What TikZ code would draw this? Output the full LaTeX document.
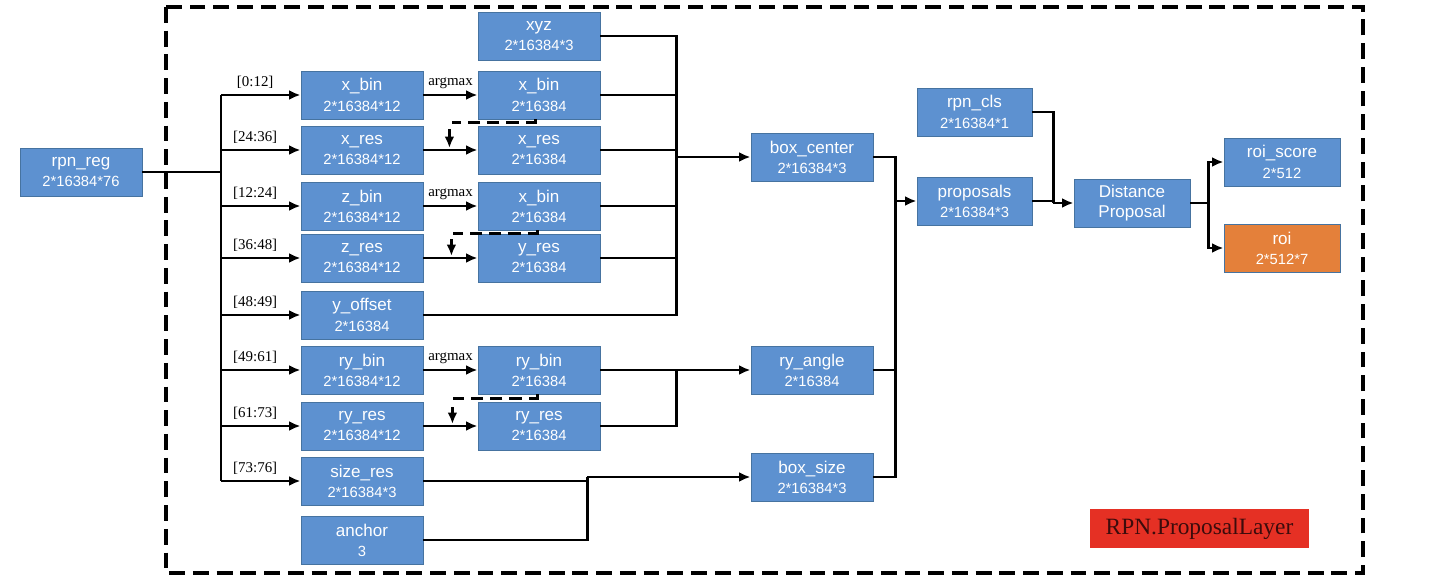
\documentclass[tikz,border=0pt]{standalone}
\usepackage{fontspec}
\setmainfont{Liberation Serif}
\setsansfont{Liberation Sans}
\usetikzlibrary{arrows.meta}
\definecolor{boxblue}{RGB}{93,145,208}
\definecolor{boxedge}{RGB}{70,115,160}
\definecolor{boxorange}{RGB}{228,128,58}
\definecolor{layerred}{RGB}{229,48,36}
\definecolor{layertext}{RGB}{60,12,12}
\tikzset{>={Latex[length=6.5pt,width=5.5pt]},
  blk/.style={draw=boxedge, line width=0.5pt, fill=boxblue, text=white, align=center, inner sep=0pt,
    minimum width=2.44cm, minimum height=0.96cm, font=\sffamily\fontsize{9.7}{11.5}\selectfont},
  lbl/.style={font=\fontsize{8.5}{10}\selectfont, inner sep=1pt, above=2pt},
  hint/.style={dash pattern=on 7pt off 4pt},
  frame/.style={line width=2.2pt, dash pattern=on 9pt off 4.5pt}}
\newcommand{\dimtxt}{\fontsize{8.4}{11.5}\selectfont}

\begin{document}
\begin{tikzpicture}[x=0.02cm, y=-0.02cm, line width=1.7pt]
  \useasboundingbox (0,0) rectangle (1432,584);
  \draw[frame] (166,7) rectangle (1363,573);
  % input
  \node[blk] (rpnreg) at (81,172) {rpn\_reg\\\dimtxt 2*16384*76};
  % first column
  \node[blk] (xbin)    at (362,95)  {x\_bin\\\dimtxt 2*16384*12};
  \node[blk] (xres)    at (362,150) {x\_res\\\dimtxt 2*16384*12};
  \node[blk] (zbin)    at (362,206) {z\_bin\\\dimtxt 2*16384*12};
  \node[blk] (zres)    at (362,258) {z\_res\\\dimtxt 2*16384*12};
  \node[blk] (yoffset) at (362,315) {y\_offset\\\dimtxt 2*16384};
  \node[blk] (rybin)   at (362,370) {ry\_bin\\\dimtxt 2*16384*12};
  \node[blk] (ryres)   at (362,426) {ry\_res\\\dimtxt 2*16384*12};
  \node[blk] (sizeres) at (362,481) {size\_res\\\dimtxt 2*16384*3};
  \node[blk] (anchor)  at (362,540) {anchor\\\dimtxt 3};
  % second column
  \node[blk] (xyz)    at (539,36)  {xyz\\\dimtxt 2*16384*3};
  \node[blk] (xbin2)  at (539,95)  {x\_bin\\\dimtxt 2*16384};
  \node[blk] (xres2)  at (539,150) {x\_res\\\dimtxt 2*16384};
  \node[blk] (xbin3)  at (539,206) {x\_bin\\\dimtxt 2*16384};
  \node[blk] (yres2)  at (539,258) {y\_res\\\dimtxt 2*16384};
  \node[blk] (rybin2) at (539,370) {ry\_bin\\\dimtxt 2*16384};
  \node[blk] (ryres2) at (539,426) {ry\_res\\\dimtxt 2*16384};
  % third column
  \node[blk] (boxcenter) at (812,157) {box\_center\\\dimtxt 2*16384*3};
  \node[blk] (ryangle)   at (812,370) {ry\_angle\\\dimtxt 2*16384};
  \node[blk] (boxsize)   at (812,477) {box\_size\\\dimtxt 2*16384*3};
  % right part
  \node[blk, minimum width=2.3cm]  (rpncls)    at (974.5,112) {rpn\_cls\\\dimtxt 2*16384*1};
  \node[blk, minimum width=2.3cm]  (proposals) at (974.5,201) {proposals\\\dimtxt 2*16384*3};
  \node[blk, minimum width=2.32cm] (dist)      at (1132,203)  {Distance\\Proposal};
  \node[blk, minimum width=2.32cm] (roiscore)  at (1282,162)  {roi\_score\\\dimtxt 2*512};
  \node[blk, minimum width=2.32cm, fill=boxorange] (roi) at (1282,248) {roi\\\dimtxt 2*512*7};
  \node[fill=layerred, text=layertext, inner sep=0pt, minimum width=4.38cm, minimum height=0.78cm,
    font=\fontsize{13.3}{15}\selectfont] (layer) at (1199.5,528.5) {RPN.ProposalLayer};

  % split of rpn_reg
  \coordinate (trunk) at (221,172);
  \draw (rpnreg) -- (trunk);
  \draw (trunk |- xbin) -- (trunk |- sizeres);
  \draw[->] (trunk |- xbin)    -- node[lbl, pos=0.43] {[0:12]}  (xbin);
  \draw[->] (trunk |- xres)    -- node[lbl, pos=0.43] {[24:36]} (xres);
  \draw[->] (trunk |- zbin)    -- node[lbl, pos=0.43] {[12:24]} (zbin);
  \draw[->] (trunk |- zres)    -- node[lbl, pos=0.43] {[36:48]} (zres);
  \draw[->] (trunk |- yoffset) -- node[lbl, pos=0.43] {[48:49]} (yoffset);
  \draw[->] (trunk |- rybin)   -- node[lbl, pos=0.43] {[49:61]} (rybin);
  \draw[->] (trunk |- ryres)   -- node[lbl, pos=0.43] {[61:73]} (ryres);
  \draw[->] (trunk |- sizeres) -- node[lbl, pos=0.43] {[73:76]} (sizeres);

  % bins and residuals
  \draw[->] (xbin)  -- node[lbl] {argmax} (xbin2);
  \draw[->] (xres)  -- (xres2);
  \draw[->] (zbin)  -- node[lbl] {argmax} (xbin3);
  \draw[->] (zres)  -- (yres2);
  \draw[->] (rybin) -- node[lbl] {argmax} (rybin2);
  \draw[->] (ryres) -- (ryres2);
  \draw[hint] ([xshift=-0.08cm]xbin2.south) -- ++(0,3) -- ++(-83,0);
  \draw[->] ([xshift=0.52cm,yshift=0.42cm]xres.east) -- ([xshift=0.52cm,yshift=0.04cm]xres.east);
  \draw[hint] ([xshift=-0.04cm]xbin3.south) -- ++(0,3) -- ++(-84,0);
  \draw[->] ([xshift=0.56cm,yshift=0.38cm]zres.east) -- ([xshift=0.56cm,yshift=0.04cm]zres.east);
  \draw[hint] ([xshift=-0.04cm]rybin2.south) -- ++(0,4) -- ++(-84,0);
  \draw[->] ([xshift=0.58cm,yshift=0.38cm]ryres.east) -- ([xshift=0.58cm,yshift=0.04cm]ryres.east);

  % box center
  \coordinate (mA) at (676,157);
  \draw (xyz.east) -| (mA);
  \draw (xbin2) -- (xbin2 -| mA);
  \draw (xres2) -- (xres2 -| mA);
  \draw (xbin3) -- (xbin3 -| mA);
  \draw (yres2) -- (yres2 -| mA);
  \draw (yoffset.east) -| (mA);
  \draw[->] (mA) -- (boxcenter);
  % angle
  \coordinate (mB) at (676,370);
  \draw (rybin2) -- (mB);
  \draw (ryres2.east) -| (mB);
  \draw[->] (mB) -- (ryangle);
  % size
  \coordinate (mC) at (587,477);
  \draw (sizeres.east) -| (mC);
  \draw (anchor.east) -| (mC);
  \draw[->] (mC) -- (boxsize);

  % proposals
  \coordinate (mD) at (895,201);
  \draw (boxcenter.east) -| (mD);
  \draw (boxsize.east) -| (mD);
  \draw (ryangle) -- (ryangle -| mD);
  \draw[->] (mD) -- (proposals);
  \coordinate (mE) at (1053,203);
  \draw (rpncls.east) -| (mE);
  \draw (proposals.east) -- (proposals.east -| mE);
  \draw[->] (mE) -- (dist);
  \coordinate (mF) at (1208,203);
  \draw (dist) -- (mF);
  \draw[->] (mF) |- (roiscore);
  \draw[->] (mF) |- (roi);
\end{tikzpicture}
\end{document}
